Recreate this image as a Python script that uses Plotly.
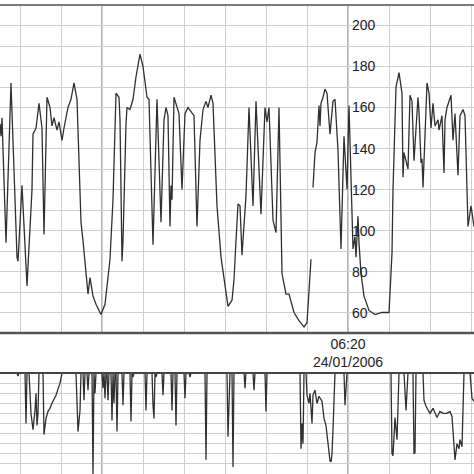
import plotly.graph_objects as go

# Fetal heart rate trace (time in chart units, bpm); None = signal gap
fhr_t = [0, 1, 2, 6, 11, 17, 18, 19, 22, 27, 31, 32, 33, 36, 39, 42, 44, 47, 50, 52, 54, 57, 59, 61, 62, 64,
         68, 71, 74, 77, 80, 81, 83, 88, 90, 93, 96, 101, 105, 110, 113, 116, 119, 120, 122, 123, 126, 127,
         130, 133, 136, 140, 143, 147, 149, 153, 157, 161, 164, 166, 168, 170, 171, 172, 174, 178, 179, 182,
         185, 188, 191, 194, 197, 199, 200, 203, 206, 208, 211, 213, 217, 221, 225, 228, 232, 234, 236, 238,
         240, 242, 246, 249, 253, 256, 261, 265, 267, 269, 273, 276, 279, 282, 286, 289, 294, 299, 304, 307,
         311, 312, 313, 315, 317, 319, 320, 321, 323, 325, 327, 330, 333, 335, 338, 341, 344, 347, 349, 353,
         355, 356, 358, 359, 361, 364, 369, 375, 382, 387, 389, 392, 393, 396, 399, 402, 403, 404, 408, 410,
         412, 414, 418, 419, 421, 422, 423, 427, 429, 431, 433, 435, 438, 439, 442, 444, 445, 447, 451, 453,
         455, 458, 460, 463, 465, 468, 471, 474]
fhr_bpm = [152, 146, 155, 94, 172, 87, 85, 95, 122, 73, 113, 120, 147, 150, 162, 150, 98, 165, 160, 151, 155, 149, 153, 147, 144, 150,
           160, 164, 172, 164, 120, 104, 95, 69, 77, 68, 64, 59, 64, 86, 115, 167, 165, 154, 85, 95, 152, 160,
           159, 164, 175, 186, 180, 165, 164, 93, 164, 104, 154, 160, 156, 102, 122, 115, 165, 158, 157, 120,
           157, 160, 158, 156, 102, 131, 144, 159, 163, 160, 166, 162, 112, 87, 72, 63, 66, 76, 95, 113,
           112, 88, 117, 160, 112, 163, 108, 160, 153, 160, 105, 99, 160, 79, 69, 69, 60, 56, 53, 55,
           86, None, 121, 138, 143, 161, 151, 162, 165, 169, 167, 147, 163, 164, 139, 91, 146, 120, 161, 91,
           97, 87, 107, 94, 79, 68, 61, 59, 60, 60, 60, 89, 120, 170, 177, 167, 126, 138, 130, 166,
           163, 134, 165, 158, 133, 135, 121, 172, 167, 150, 162, 151, 154, 149, 156, 128, 154, 160, 166, 144,
           157, 127, 156, 159, 156, 102, 112, 102]

# Lower channel (uterine activity style trace, 0-100 scale)
toco_t = [0, 17, 18, 19, 25, 26, 27, 29, 31, 33, 35, 36, 37, 38, 39, 43, 44, 46, 48, 50, 52, 54, 56, 58, 60, 62,
          76, 78, 80, 81, 83, 84, 85, 87, 88, 89, 92, 93, 94, 95, 96, 102, 103, 104, 105, 106, 107, 108, 109,
          111, 112, 113, 114, 115, 116, 117, 118, 122, 123, 124, 130, 131, 132, 133, 134, 145, 146, 147, 152,
          153, 154, 155, 156, 157, 162, 163, 164, 171, 172, 173, 175, 176, 177, 184, 185, 186, 189, 190, 191,
          205, 206, 207, 227, 228, 229, 230, 232, 233, 234, 244, 245, 246, 253, 254, 255, 265, 266, 267, 300,
          301, 302, 303, 304, 306, 307, 309, 310, 312, 313, 315, 317, 319, 322, 324, 326, 330, 331, 332, 333,
          335, 344, 345, 347, 391, 392, 393, 395, 397, 399, 404, 406, 408, 413, 414, 415, 416, 423, 424, 426,
          430, 433, 437, 440, 443, 447, 450, 452, 454, 455, 457, 459, 460, 462, 464, 470, 472, 474]
toco_v = [100, 100, 97, 100, 100, 50, 100, 100, 60, 44, 63, 80, 48, 60, 100, 100, 39, 55, 62, 65, 70, 74, 78, 84, 90, 100,
          100, 42, 63, 100, 100, 73, 100, 100, 83, 100, 100, 0, 100, 80, 100, 100, 85, 100, 75, 100, 100, 73, 100,
          100, 53, 100, 70, 100, 100, 42, 100, 100, 68, 100, 100, 52, 100, 96, 100, 100, 63, 100, 100,
          68, 55, 100, 96, 100, 100, 78, 100, 100, 63, 100, 100, 48, 100, 100, 75, 100, 100, 96, 100,
          100, 14, 100, 100, 37, 60, 100, 100, 7, 100, 100, 85, 100, 100, 83, 100, 100, 62, 100, 100,
          25, 50, 30, 100, 100, 78, 70, 80, 50, 78, 83, 70, 77, 72, 55, 48, 13, 12, 20, 44,
          100, 100, 68, 100, 100, 20, 18, 56, 34, 100, 100, 63, 100, 100, 20, 21, 100, 100, 73, 67,
          60, 65, 56, 62, 60, 60, 62, 57, 34, 14, 30, 25, 34, 27, 100, 100, 75, 72]

fhr_labels = [200, 180, 160, 140, 120, 100, 80, 60]
major_lines = [102, 348]
time_label = "06:20<br>24/01/2006"
time_label_x = 348

TOP_DOM = [1 - 333 / 474, 1 - 5 / 474]
BOT_DOM = [0, 1 - 373 / 474]
GRID = "#cfcfcf"
INK = "#303030"

fig = go.Figure()
fig.add_trace(go.Scatter(x=fhr_t, y=fhr_bpm, mode="lines", xaxis="x", yaxis="y",
                         line=dict(color=INK, width=1.3), connectgaps=False, hoverinfo="skip"))
fig.add_trace(go.Scatter(x=toco_t, y=toco_v, mode="lines", xaxis="x2", yaxis="y2",
                         line=dict(color=INK, width=1.3), hoverinfo="skip"))

axis_common = dict(showticklabels=False, zeroline=False, showgrid=True, gridcolor=GRID, gridwidth=1,
                   ticks="", showline=False, fixedrange=True)
fig.update_layout(
    width=474, height=474, margin=dict(l=0, r=0, t=0, b=0),
    paper_bgcolor="white", plot_bgcolor="white", showlegend=False,
    xaxis=dict(domain=[0, 1], range=[0, 474], tick0=20, dtick=41, anchor="y", **axis_common),
    yaxis=dict(domain=TOP_DOM, range=[50, 210], tick0=50, dtick=10, anchor="x", **axis_common),
    xaxis2=dict(domain=[0, 1], range=[0, 474], tick0=20, dtick=41, anchor="y2", **axis_common),
    yaxis2=dict(domain=BOT_DOM, range=[0, 100], tick0=0, dtick=10, anchor="x2", **axis_common),
)

shapes = []
for mx in major_lines:
    shapes.append(dict(type="line", xref="x", yref="paper", x0=mx, x1=mx, y0=TOP_DOM[0], y1=TOP_DOM[1],
                       line=dict(color="#9a9a9a", width=1.5), layer="below"))
    shapes.append(dict(type="line", xref="x2", yref="paper", x0=mx, x1=mx, y0=BOT_DOM[0], y1=BOT_DOM[1],
                       line=dict(color="#9a9a9a", width=1.5), layer="below"))
shapes.append(dict(type="line", xref="paper", yref="paper", x0=0, x1=1, y0=TOP_DOM[1], y1=TOP_DOM[1],
                   line=dict(color="#7a7a7a", width=2)))
shapes.append(dict(type="line", xref="paper", yref="paper", x0=0, x1=1, y0=TOP_DOM[0], y1=TOP_DOM[0],
                   line=dict(color="#555555", width=2.5)))
shapes.append(dict(type="line", xref="paper", yref="paper", x0=0, x1=1, y0=BOT_DOM[1], y1=BOT_DOM[1],
                   line=dict(color="#444444", width=2)))
fig.update_layout(shapes=shapes)

annotations = []
for v in fhr_labels:
    annotations.append(dict(x=349.5, y=v, xref="x", yref="y", text=str(v), showarrow=False,
                            xanchor="left", yanchor="middle",
                            font=dict(family="Liberation Sans, Arial, sans-serif", size=14, color="#222")))
annotations.append(dict(x=time_label_x, y=1 - 353 / 474, xref="x", yref="paper", text=time_label,
                        showarrow=False, xanchor="center", yanchor="middle", align="center",
                        font=dict(family="Liberation Sans, Arial, sans-serif", size=14, color="#222")))
fig.update_layout(annotations=annotations)

fig.write_html("out.html", config={"displayModeBar": False},
               post_script="document.body.style.margin='0px';document.body.style.overflow='hidden';")
